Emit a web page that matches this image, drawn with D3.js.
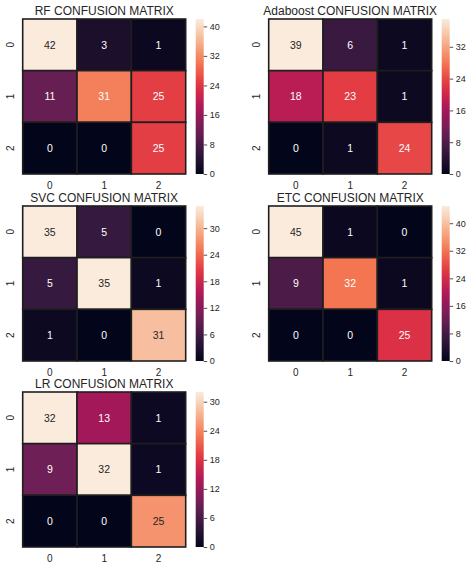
<!DOCTYPE html>
<html>
<head>
<meta charset="utf-8">
<script src="https://cdn.jsdelivr.net/npm/d3@7"></script>
<style>
  body { margin: 0; background: #fff; }
  svg { display: block; font-family: "Liberation Sans", Arial, sans-serif; }
</style>
</head>
<body>
<script>
var width = 474, height = 567;

// data
var classes = ["0", "1", "2"];
var titles = ["RF CONFUSION MATRIX", "Adaboost CONFUSION MATRIX", "SVC CONFUSION MATRIX",
              "ETC CONFUSION MATRIX", "LR CONFUSION MATRIX"];
var rfMatrix = [[42, 3, 1], [11, 31, 25], [0, 0, 25]];
var adaMatrix = [[39, 6, 1], [18, 23, 1], [0, 1, 24]];
var svcMatrix = [[35, 5, 0], [5, 35, 1], [1, 0, 31]];
var etcMatrix = [[45, 1, 0], [9, 32, 1], [0, 0, 25]];
var lrMatrix = [[32, 13, 1], [9, 32, 1], [0, 0, 25]];
var rfTicks = [0, 8, 16, 24, 32, 40];
var adaTicks = [0, 8, 16, 24, 32];
var svcTicks = [0, 6, 12, 18, 24, 30];
var etcTicks = [0, 8, 16, 24, 32, 40];
var lrTicks = [0, 6, 12, 18, 24, 30];

var matrices = [rfMatrix, adaMatrix, svcMatrix, etcMatrix, lrMatrix];
var cbTicks = [rfTicks, adaTicks, svcTicks, etcTicks, lrTicks];

// seaborn "rocket" approximation
var rocket = d3.piecewise(d3.interpolateRgb, ["#03051a", "#35193e", "#701f57", "#ad1759",
                                             "#e13342", "#f37651", "#f6b48f", "#faebdd"]);

function luminance(c) {
    var rgb = d3.rgb(c);
    var lin = [rgb.r, rgb.g, rgb.b].map(function (v) {
        v = v / 255;
        return v <= 0.03928 ? v / 12.92 : Math.pow((v + 0.055) / 1.055, 2.4);
    });
    return 0.2126 * lin[0] + 0.7152 * lin[1] + 0.0722 * lin[2];
}

var svg = d3.select("body").append("svg")
    .attr("width", width)
    .attr("height", height);

var defs = svg.append("defs");

var colLeft = [22.7, 268.7],
    rowTop = [19, 206, 392],
    hmW = 163, hmH = 155,
    textCol = "#262626";

matrices.forEach(function (m, i) {
    var left = colLeft[i % 2], top = rowTop[Math.floor(i / 2)];
    var g = svg.append("g").attr("transform", "translate(" + left + "," + top + ")");

    var flat = [];
    m.forEach(function (row, r) {
        row.forEach(function (v, c) { flat.push({ r: r, c: c, v: v }); });
    });
    var vmax = d3.max(flat, function (d) { return d.v; }),
        vmin = d3.min(flat, function (d) { return d.v; });

    var x = d3.scaleBand().domain(classes).range([0, hmW]);
    var y = d3.scaleBand().domain(classes).range([0, hmH]);
    var color = d3.scaleSequential(rocket).domain([vmin, vmax]);

    g.selectAll("rect.cell")
        .data(flat)
        .enter().append("rect")
        .attr("class", "cell")
        .attr("x", function (d) { return x(classes[d.c]); })
        .attr("y", function (d) { return y(classes[d.r]); })
        .attr("width", x.bandwidth())
        .attr("height", y.bandwidth())
        .attr("fill", function (d) { return color(d.v); })
        .attr("stroke", "#1e1e1e")
        .attr("stroke-width", 1.6);

    g.selectAll("text.annot")
        .data(flat)
        .enter().append("text")
        .attr("class", "annot")
        .attr("x", function (d) { return x(classes[d.c]) + x.bandwidth() / 2; })
        .attr("y", function (d) { return y(classes[d.r]) + y.bandwidth() / 2; })
        .attr("dy", "0.36em")
        .attr("text-anchor", "middle")
        .attr("font-size", "10.5px")
        .attr("fill", function (d) { return luminance(color(d.v)) > 0.408 ? textCol : "#ffffff"; })
        .text(function (d) { return d.v; });

    // title
    g.append("text")
        .attr("x", hmW / 2)
        .attr("y", -4.5)
        .attr("text-anchor", "middle")
        .attr("font-size", "12px")
        .attr("fill", textCol)
        .text(titles[i]);

    // x tick labels
    g.selectAll("text.xt")
        .data(classes)
        .enter().append("text")
        .attr("class", "xt")
        .attr("x", function (d) { return x(d) + x.bandwidth() / 2; })
        .attr("y", hmH + 15)
        .attr("text-anchor", "middle")
        .attr("font-size", "10px")
        .attr("fill", textCol)
        .text(function (d) { return d; });

    // y tick labels, rotated
    g.selectAll("text.yt")
        .data(classes)
        .enter().append("text")
        .attr("class", "yt")
        .attr("transform", function (d) {
            return "translate(-12," + (y(d) + y.bandwidth() / 2) + ") rotate(-90)";
        })
        .attr("dy", "0.36em")
        .attr("text-anchor", "middle")
        .attr("font-size", "10px")
        .attr("fill", textCol)
        .text(function (d) { return d; });

    // colorbar
    var gradId = "grad" + i;
    var grad = defs.append("linearGradient")
        .attr("id", gradId)
        .attr("x1", 0).attr("y1", 1).attr("x2", 0).attr("y2", 0);
    d3.range(0, 1.0001, 0.05).forEach(function (t) {
        grad.append("stop")
            .attr("offset", t)
            .attr("stop-color", rocket(t));
    });

    var cbX = hmW + 10, cbW = 8;
    var cbScale = d3.scaleLinear().domain([vmin, vmax]).range([hmH, 0]);

    g.append("rect")
        .attr("x", cbX)
        .attr("y", 0)
        .attr("width", cbW)
        .attr("height", hmH)
        .attr("fill", "url(#" + gradId + ")");

    var cbAxis = g.append("g")
        .attr("transform", "translate(" + (cbX + cbW) + ",0)")
        .call(d3.axisRight(cbScale).tickValues(cbTicks[i]).tickSize(3.5).tickPadding(2.5));
    cbAxis.select(".domain").remove();
    cbAxis.selectAll("line").attr("stroke", textCol).attr("stroke-width", 0.8);
    cbAxis.selectAll("text")
        .attr("fill", textCol)
        .attr("font-size", "9px")
        .attr("font-family", "Liberation Sans, Arial, sans-serif");
});
</script>
</body>
</html>
